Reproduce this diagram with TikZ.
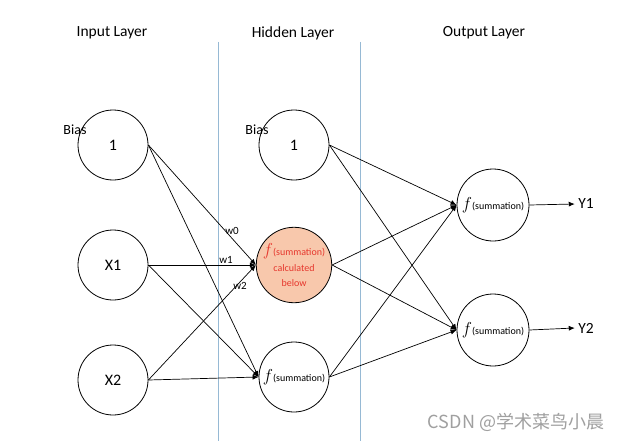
\documentclass[tikz,border=0pt]{standalone}
\usepackage{fontspec}
\setmainfont{Carlito}
\newfontfamily\cjk{Noto Sans CJK SC}
\usetikzlibrary{arrows.meta}
\definecolor{layerBlue}{RGB}{150,185,212}
\definecolor{nodePeach}{RGB}{248,200,172}
\definecolor{calcRed}{RGB}{230,55,45}
\definecolor{wmGray}{RGB}{160,160,160}
\begin{document}
\begin{tikzpicture}[x=1pt,y=-1pt,
  neuron/.style={circle,draw,line width=0.8pt,minimum size=70pt,inner sep=0pt,font=\fontsize{16}{18}\selectfont},
  link/.style={line width=0.7pt,-{Latex[length=6pt,width=5pt]}},
  title/.style={font=\fontsize{15.5}{18}\selectfont},
  wlabel/.style={font=\fontsize{11}{13}\selectfont,inner sep=1pt}]
\useasboundingbox[fill=white] (0,0) rectangle (628,441);
% layer separators
\draw[layerBlue, line width=0.8pt] (218,42)--(218,441);
\draw[layerBlue, line width=0.8pt] (360,42)--(360,441);
% titles
\node[title] (tin) at (112,33) {Input Layer};
\node[title] (thid) at (293,33) {Hidden Layer};
\node[title] (tout) at (484,33) {Output Layer};
% input layer
\node[neuron] (i0) at (113,145) {1};
\node[neuron] (i1) at (113,265) {X1};
\node[neuron] (i2) at (113,380) {X2};
% hidden layer
\node[neuron] (h0) at (294,145) {1};
\node[neuron,fill=nodePeach,align=center] (h1) at (294,265)
  {\textcolor{calcRed}{$f$\fontsize{10}{12}\selectfont(summation)}\\[-2pt]
   \textcolor{calcRed}{\fontsize{10}{12}\selectfont calculated}\\[-3pt]
   \textcolor{calcRed}{\fontsize{10}{12}\selectfont below}};
\node[neuron] (h2) at (294,377) {$f$\fontsize{10}{12}\selectfont(summation)};
% output layer
\node[neuron,minimum size=72pt] (o1) at (493,205) {$f$\fontsize{10}{12}\selectfont(summation)};
\node[neuron,minimum size=72pt] (o2) at (493,330) {$f$\fontsize{10}{12}\selectfont(summation)};
\node[title] (y1) at (586,204) {Y1};
\node[title] (y2) at (586,328) {Y2};
% bias labels
\node[font=\fontsize{14}{16}\selectfont] (bi) at (75,130) {Bias};
\node[font=\fontsize{14}{16}\selectfont] (bh) at (257,130) {Bias};
% input -> hidden
\foreach \s in {i0,i1,i2}
  \foreach \t in {h1,h2}
    \draw[link] (\s.east)--(\t.west);
% hidden -> output
\foreach \s in {h0,h1,h2}
  \foreach \t in {o1,o2}
    \draw[link] (\s.east)--(\t.west);
\draw[link] (o1.east)--(y1.west);
\draw[link] (o2.east)--(y2.west);
% weights
\node[wlabel] (w0) at (232,231) {w0};
\node[wlabel] (w1) at (226,260) {w1};
\node[wlabel] (w2) at (240,286) {w2};
% watermark
\node[text=wmGray,font=\cjk\fontsize{18}{20}\selectfont] (wm) at (516,422) {CSDN @学术菜鸟小晨};
\end{tikzpicture}
\end{document}
